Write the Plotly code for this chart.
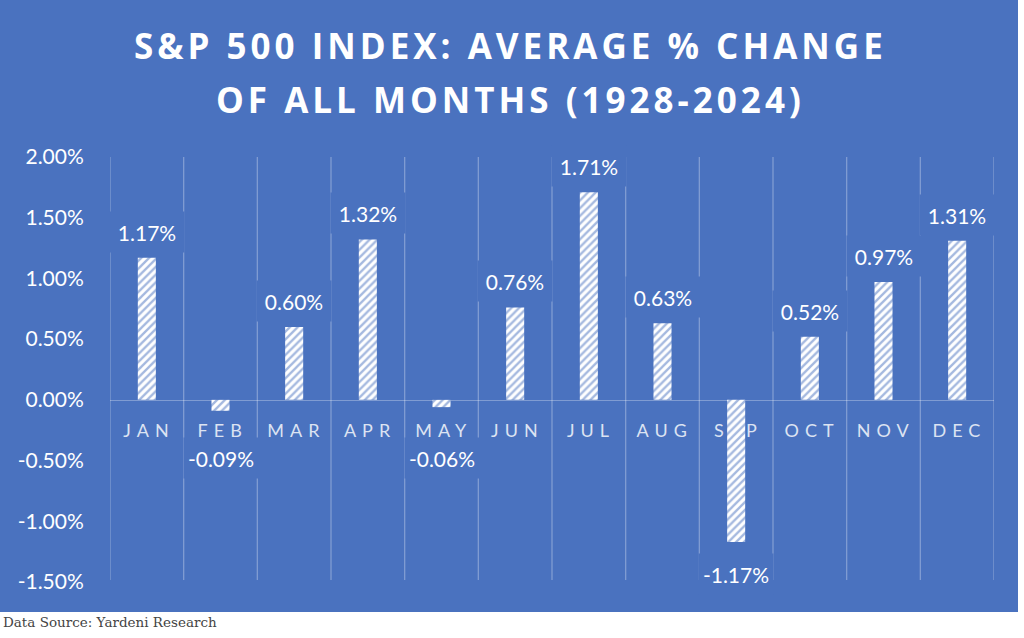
import plotly.graph_objects as go

months = ["JAN", "FEB", "MAR", "APR", "MAY", "JUN", "JUL", "AUG", "SEP", "OCT", "NOV", "DEC"]
avg_change = [1.17, -0.09, 0.60, 1.32, -0.06, 0.76, 1.71, 0.63, -1.17, 0.52, 0.97, 1.31]
y_ticks = [-1.5, -1.0, -0.5, 0.0, 0.5, 1.0, 1.5, 2.0]
y_ticktext = ["-1.50%", "-1.00%", "-0.50%", "0.00%", "0.50%", "1.00%", "1.50%", "2.00%"]
title_lines = ["S&P 500 INDEX: AVERAGE % CHANGE", "OF ALL MONTHS (1928-2024)"]
source_text = "Data Source: Yardeni Research"

BLUE = "#4A72BF"
GRID = "rgba(255,255,255,0.30)"
FONT = "Lato, 'Open Sans', sans-serif"

W, H = 1024, 638
L, R, T, B = 110, 30, 157, 56
PW, PH = W - L - R, H - T - B
YMIN, YMAX = -1.5, 2.0

def px_x(p):
    return (p - L) / PW

def px_y(p):
    return (H - B - p) / PH

xs = list(range(len(months)))
fig = go.Figure()
fig.add_trace(go.Bar(
    x=xs, y=avg_change, width=0.245,
    marker=dict(color="white", line=dict(width=0),
                pattern=dict(shape="/", fgcolor=BLUE, size=5.5, solidity=0.42, fillmode="overlay")),
    hoverinfo="skip", showlegend=False,
))

spaced = [f'<span style="letter-spacing:6px">{m}</span>' for m in months]

shapes = [dict(type="rect", xref="paper", yref="paper",
               x0=px_x(0), x1=px_x(1018), y0=px_y(612), y1=px_y(0),
               fillcolor=BLUE, line=dict(width=0), layer="below")]
for i in range(len(months) + 1):
    shapes.append(dict(type="line", xref="x", yref="paper", x0=i - 0.5, x1=i - 0.5,
                       y0=px_y(580), y1=1, line=dict(color=GRID, width=1.3), layer="below"))

fig.update_layout(
    width=W, height=H,
    margin=dict(l=L, r=R, t=T, b=B),
    paper_bgcolor="white",
    plot_bgcolor="rgba(0,0,0,0)",
    xaxis=dict(
        range=[-0.5, 11.5], anchor="free", position=(0 - YMIN) / (YMAX - YMIN),
        tickmode="array", tickvals=[x + 0.03 for x in xs], ticktext=spaced,
        ticks="outside", ticklen=14, tickcolor="rgba(0,0,0,0)",
        tickfont=dict(family=FONT, size=18, color="#DCE3F2"),
        showgrid=False, zeroline=False,
        showline=True, linecolor=GRID, linewidth=1.3,
        layer="below traces",
    ),
    yaxis=dict(
        range=[YMIN, YMAX], tickmode="array", tickvals=y_ticks, ticktext=y_ticktext,
        ticks="outside", ticklen=21, tickcolor="rgba(0,0,0,0)",
        tickfont=dict(family=FONT, size=21, color="white"),
        showgrid=False, zeroline=False, showline=False,
    ),
    shapes=shapes,
)

# data labels
for x, v in zip(xs, avg_change):
    if v >= 0:
        ly = v + 0.215
    else:
        ly = min(v, -0.22) - 0.26
    fig.add_annotation(x=x, y=ly, xref="x", yref="y", text=f"{v:.2f}%",
                       showarrow=False, font=dict(family=FONT, size=21, color="white"),
                       bgcolor=BLUE, width=72, height=38, xanchor="center", yanchor="middle")

# title
for line, yc in zip(title_lines, [46, 99]):
    fig.add_annotation(x=px_x(510), xref="paper", y=px_y(yc), yref="paper",
                       text=f'<b><span style="letter-spacing:4px">{line}</span></b>',
                       showarrow=False, xanchor="center", yanchor="middle",
                       font=dict(family="'Open Sans', sans-serif", size=35, color="white"))

fig.add_annotation(x=px_x(1), xref="paper", y=px_y(622), yref="paper", text=source_text,
                   showarrow=False, xanchor="left", yanchor="middle",
                   font=dict(family="'DejaVu Serif', serif", size=13.5, color="#444444"))

fig.write_html("out.html")
